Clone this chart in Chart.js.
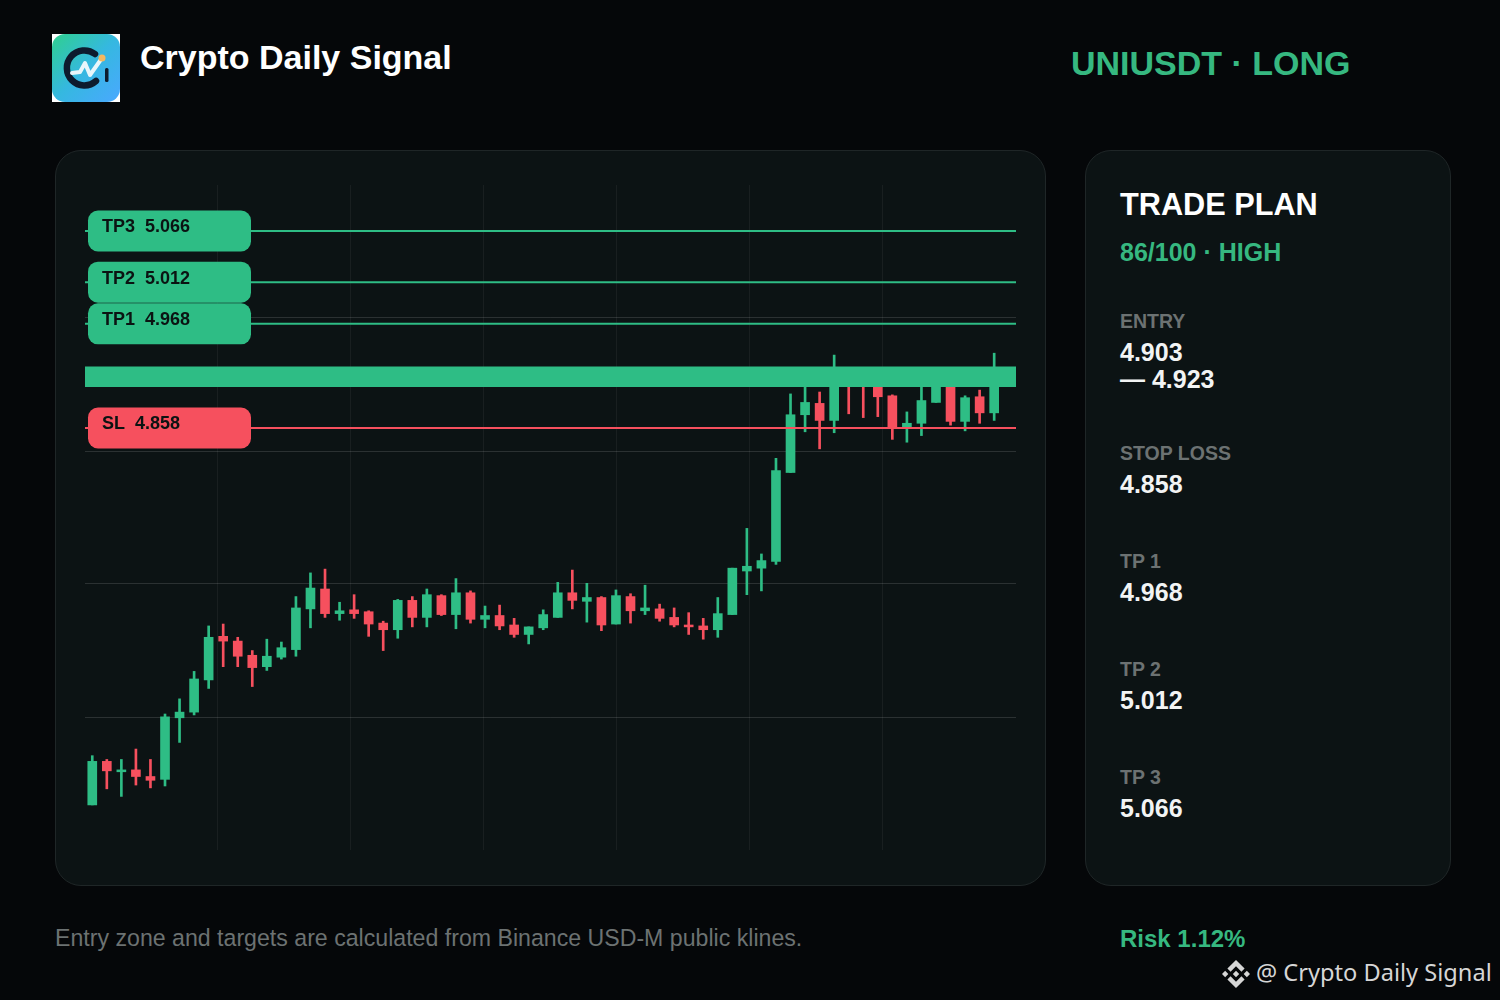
<!DOCTYPE html>
<html>
<head>
<meta charset="utf-8">
<title>UNIUSDT LONG</title>
<script src="https://cdn.jsdelivr.net/npm/chart.js@4/dist/chart.umd.min.js"></script>
<style>
  html, body { margin: 0; padding: 0; background: #050709; }
  body { position: relative; width: 1500px; height: 1000px; overflow: hidden; font-family: "Liberation Sans", Arial, sans-serif; }
  .card { position: absolute; top: 150px; height: 734px; background: #0c1314; border: 1px solid #1f2627; border-radius: 26px; }
  .txt { position: absolute; white-space: nowrap; line-height: 1; }
  .lbl { font-size: 19.5px; font-weight: 700; color: #6c7272; left: 1120px; }
  .val { font-size: 25px; font-weight: 700; color: #f2f4f4; left: 1120px; }
  .green { color: #36b880; }
  canvas { position: absolute; left: 55px; top: 150px; }
</style>
</head>
<body>

<svg style="position:absolute;left:52px;top:34px" width="68" height="68" viewBox="0 0 68 68">
  <defs>
    <linearGradient id="logoBg" x1="0" y1="0" x2="1" y2="1">
      <stop offset="0" stop-color="#2fd08e"/>
      <stop offset="0.5" stop-color="#35b8e0"/>
      <stop offset="1" stop-color="#4aa8ff"/>
    </linearGradient>
  </defs>
  <rect width="68" height="68" fill="#ffffff"/>
  <rect width="68" height="68" rx="13" fill="url(#logoBg)"/>
  <path d="M43 20 A17.5 17.5 0 1 0 44 47" fill="none" stroke="#0d1b2e" stroke-width="6.5" stroke-linecap="round"/>
  <path d="M20 39 L28 38 L33 29 L38 41 L50 24" fill="none" stroke="#e8f6fb" stroke-width="4" stroke-linejoin="round" stroke-linecap="round"/>
  <circle cx="50" cy="24" r="3.5" fill="#f4b860"/>
  <rect x="53" y="34" width="3.5" height="14" rx="1.5" fill="#0d1b2e"/>
</svg>

<div class="txt" style="left:140px;top:40px;font-size:34px;font-weight:700;color:#ffffff">Crypto Daily Signal</div>
<div class="txt green" style="left:1071px;top:46px;font-size:34px;font-weight:700">UNIUSDT · LONG</div>

<div class="card" style="left:55px;width:989px"></div>
<div class="card" style="left:1085px;width:364px"></div>
<canvas id="chart" width="991" height="736"></canvas>

<div class="txt" style="left:1120px;top:190px;font-size:30.7px;font-weight:700;color:#ffffff">TRADE PLAN</div>
<div class="txt green" style="left:1120px;top:240px;font-size:25px;font-weight:700">86/100 · HIGH</div>

<div class="txt lbl" style="top:312px">ENTRY</div>
<div class="txt val" style="top:340px">4.903</div>
<div class="txt val" style="top:367px">— 4.923</div>
<div class="txt lbl" style="top:444px">STOP LOSS</div>
<div class="txt val" style="top:472px">4.858</div>
<div class="txt lbl" style="top:552px">TP 1</div>
<div class="txt val" style="top:580px">4.968</div>
<div class="txt lbl" style="top:660px">TP 2</div>
<div class="txt val" style="top:688px">5.012</div>
<div class="txt lbl" style="top:768px">TP 3</div>
<div class="txt val" style="top:796px">5.066</div>

<div class="txt" style="left:55px;top:927px;font-size:23.15px;color:#6c7272">Entry zone and targets are calculated from Binance USD-M public klines.</div>
<div class="txt green" style="left:1120px;top:927px;font-size:24px;font-weight:700">Risk 1.12%</div>

<svg style="position:absolute;left:1222px;top:960px" width="28" height="28" viewBox="0 0 126.61 126.61">
  <path fill="#d6d6d6" d="m38.73 53.2 24.59-24.58 24.6 24.6 14.3-14.31L63.32 0l-38.9 38.9zM0 63.31l14.3-14.31 14.31 14.31-14.31 14.3zM38.73 73.41l24.59 24.59 24.6-24.6 14.31 14.29-38.9 38.91-38.91-38.88zM98 63.31l14.3-14.31 14.31 14.3-14.31 14.32zM77.83 63.3 63.32 48.78 52.59 59.51l-1.24 1.23-2.54 2.54 14.51 14.5 14.51-14.47z"/>
</svg>
<div class="txt" style="left:1256px;top:961px;font-family:'Noto Sans';font-size:23.6px;color:#d6d6d6">@ Crypto Daily Signal</div>

<script>
  const opens = [
    4.460, 4.506, 4.495, 4.497, 4.490, 4.487, 4.552, 4.558, 4.592, 4.638,
    4.633, 4.618, 4.606, 4.616, 4.624, 4.667, 4.688, 4.662, 4.666, 4.664,
    4.652, 4.645, 4.676, 4.658, 4.681, 4.661, 4.684, 4.656, 4.660, 4.650,
    4.640, 4.647, 4.658, 4.684, 4.675, 4.679, 4.651, 4.680, 4.665, 4.667,
    4.658, 4.650, 4.649, 4.645, 4.661, 4.707, 4.710, 4.717, 4.811, 4.872,
    4.884, 4.866, 4.911, 4.909, 4.907, 4.892, 4.859, 4.863, 4.885, 4.909,
    4.865, 4.891, 4.874,
  ];
  const closes = [
    4.506, 4.496, 4.497, 4.490, 4.486, 4.553, 4.558, 4.593, 4.637, 4.633,
    4.617, 4.605, 4.617, 4.626, 4.668, 4.689, 4.662, 4.665, 4.662, 4.651,
    4.645, 4.676, 4.658, 4.682, 4.661, 4.684, 4.656, 4.660, 4.649, 4.640,
    4.648, 4.661, 4.684, 4.676, 4.679, 4.650, 4.681, 4.665, 4.668, 4.657,
    4.650, 4.648, 4.645, 4.662, 4.710, 4.712, 4.718, 4.813, 4.872, 4.885,
    4.866, 4.911, 4.904, 4.902, 4.891, 4.858, 4.863, 4.887, 4.911, 4.865,
    4.890, 4.874, 4.914,
  ];
  const highs = [
    4.512, 4.508, 4.508, 4.519, 4.508, 4.556, 4.572, 4.601, 4.649, 4.651,
    4.637, 4.623, 4.635, 4.632, 4.680, 4.705, 4.709, 4.674, 4.682, 4.665,
    4.654, 4.677, 4.680, 4.688, 4.682, 4.699, 4.686, 4.670, 4.671, 4.657,
    4.648, 4.666, 4.695, 4.708, 4.694, 4.680, 4.687, 4.683, 4.692, 4.672,
    4.668, 4.663, 4.657, 4.679, 4.710, 4.752, 4.725, 4.826, 4.894, 4.909,
    4.896, 4.935, 4.919, 4.917, 4.914, 4.893, 4.875, 4.909, 4.917, 4.914,
    4.892, 4.898, 4.937,
  ];
  const lows = [
    4.460, 4.477, 4.469, 4.481, 4.478, 4.480, 4.526, 4.555, 4.583, 4.606,
    4.606, 4.585, 4.602, 4.614, 4.617, 4.647, 4.658, 4.655, 4.657, 4.638,
    4.623, 4.636, 4.648, 4.648, 4.660, 4.646, 4.652, 4.647, 4.645, 4.637,
    4.630, 4.645, 4.658, 4.667, 4.653, 4.644, 4.651, 4.652, 4.661, 4.654,
    4.648, 4.640, 4.635, 4.637, 4.661, 4.682, 4.686, 4.714, 4.811, 4.854,
    4.836, 4.853, 4.873, 4.869, 4.870, 4.846, 4.843, 4.850, 4.885, 4.861,
    4.855, 4.863, 4.866,
  ];

  const entryLow = 4.903;
  const entryHigh = 4.923;
  const levelNames = ["TP3", "TP2", "TP1", "SL"];
  const levelValues = [5.066, 5.012, 4.968, 4.858];
  const gridPrices = [4.9742, 4.8337, 4.6933, 4.5528];
  const gridColumns = [0.993, 1.993, 2.993, 3.993, 4.993, 5.993];
  const priceMin = 4.4124;
  const priceMax = 5.1146;

  const GREEN = "#2ebd85";
  const RED = "#f6505e";

  // one spare slot on the right, the last candle does not touch the edge
  const candleLabels = opens.map((o, i) => String(i + 1)).concat([""]);

  function candleColor(ctx) {
    const i = ctx.dataIndex;
    return closes[i] >= opens[i] ? GREEN : RED;
  }

  function levelColor(name) {
    return name === "SL" ? RED : GREEN;
  }

  const levelDatasets = levelNames.map((name, i) => ({
    type: "line",
    label: name,
    xAxisID: "xGrid",
    data: [{ x: 0, y: levelValues[i] }, { x: 7, y: levelValues[i] }],
    borderColor: levelColor(name),
    borderWidth: 2,
    pointRadius: 0,
    order: 1,
  }));

  const levelPills = {
    id: "levelPills",
    afterDatasetsDraw(chart) {
      const c = chart.ctx;
      const left = chart.chartArea.left;
      c.save();
      levelNames.forEach((name, i) => {
        const y = chart.scales.y.getPixelForValue(levelValues[i]);
        c.fillStyle = levelColor(name);
        c.beginPath();
        c.roundRect(left + 3, y - 20.5, 163, 41, 10);
        c.fill();
        c.fillStyle = "#0b1312";
        c.font = "bold 18px 'Liberation Sans'";
        c.textBaseline = "middle";
        c.fillText(name + "  " + levelValues[i].toFixed(3), left + 17, y - 3.5);
      });
      c.restore();
    },
  };

  new Chart(document.getElementById("chart"), {
    data: {
      labels: candleLabels,
      datasets: [
        {
          type: "bar",
          label: "wick",
          data: highs.map((h, i) => [lows[i], h]),
          backgroundColor: candleColor,
          barThickness: 2,
          grouped: false,
          order: 4,
        },
        {
          type: "bar",
          label: "body",
          data: opens.map((o, i) => [o, closes[i]]),
          backgroundColor: candleColor,
          barThickness: 9,
          grouped: false,
          order: 3,
        },
        {
          type: "line",
          label: "entry",
          xAxisID: "xGrid",
          data: [{ x: 0, y: entryHigh }, { x: 7, y: entryHigh }],
          borderWidth: 0,
          pointRadius: 0,
          backgroundColor: GREEN,
          fill: { value: entryLow },
          order: 2,
        },
        {
          type: "line",
          label: "entry edge",
          xAxisID: "xGrid",
          data: [{ x: 0, y: entryLow }, { x: 7, y: entryLow }],
          borderColor: GREEN,
          borderWidth: 3,
          pointRadius: 0,
          order: 2,
        },
        ...levelDatasets,
      ],
    },
    options: {
      responsive: false,
      animation: false,
      devicePixelRatio: 1,
      layout: { padding: { left: 30, right: 30, top: 35, bottom: 36 } },
      plugins: { legend: { display: false }, tooltip: { enabled: false } },
      scales: {
        x: {
          type: "category",
          offset: true,
          grid: { display: false, drawTicks: false },
          border: { display: false },
          ticks: { display: false },
        },
        xGrid: {
          type: "linear",
          axis: "x",
          min: 0,
          max: 7,
          afterBuildTicks: (scale) => { scale.ticks = gridColumns.map((value) => ({ value })); },
          grid: { color: "rgba(255,255,255,0.055)", drawTicks: false },
          border: { display: false },
          ticks: { display: false },
        },
        y: {
          type: "linear",
          min: priceMin,
          max: priceMax,
          afterBuildTicks: (scale) => { scale.ticks = gridPrices.map((value) => ({ value })); },
          grid: { color: "rgba(255,255,255,0.13)", drawTicks: false },
          border: { display: false },
          ticks: { display: false },
        },
      },
    },
    plugins: [levelPills],
  });
</script>
</body>
</html>
